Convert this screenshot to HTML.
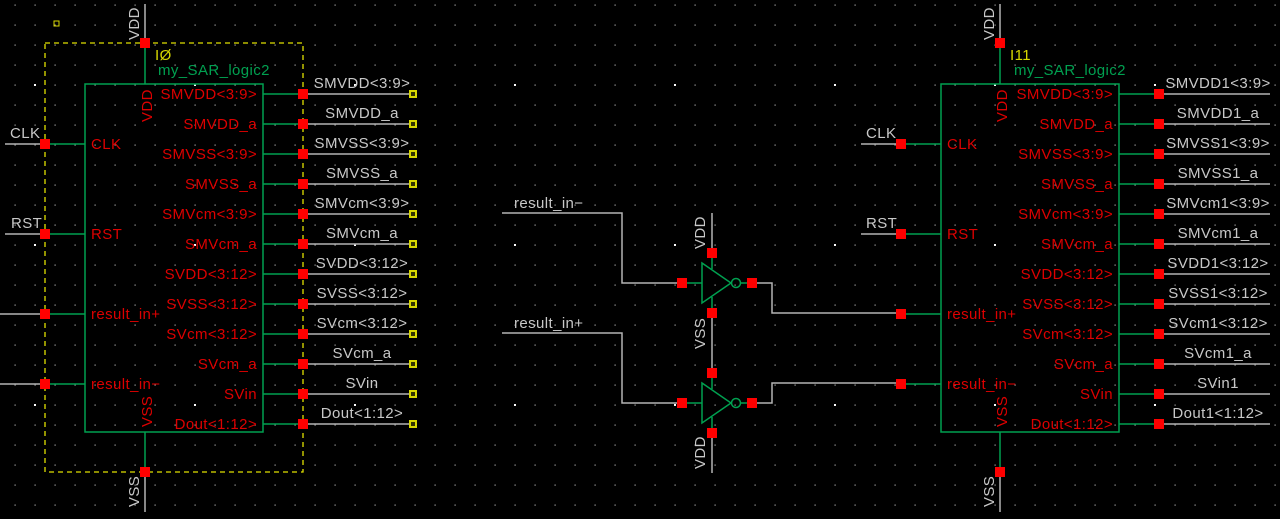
<!DOCTYPE html>
<html><head><meta charset="utf-8"><style>
html,body{margin:0;padding:0;background:#000;}
svg{display:block;}
text{font-family:"Liberation Sans",sans-serif;font-size:15px;letter-spacing:0.4px;}
.r{fill:#dd0000;}
.g{fill:#c8c8c8;}
.gr{fill:#00a050;}
.y{fill:#d8d800;}
</style></head><body>
<svg width="1280" height="519" viewBox="0 0 1280 519" xmlns="http://www.w3.org/2000/svg">
<defs>
<pattern id="dots" x="0" y="0" width="20" height="20" patternUnits="userSpaceOnUse">
<rect x="14.5" y="4.5" width="1.2" height="1.2" fill="#a8a8a8"/>
</pattern>
<pattern id="big" x="0" y="0" width="160" height="160" patternUnits="userSpaceOnUse">
<rect x="34" y="84" width="2" height="2" fill="#ffffff"/>
</pattern>
<g id="term"><rect x="-4" y="-4" width="8" height="8" fill="#d8d800"/><rect x="-2" y="-2" width="4" height="4" fill="#333300"/></g>
</defs>
<rect width="1280" height="519" fill="#000"/>
<rect width="1280" height="519" fill="url(#dots)"/>
<rect width="1280" height="519" fill="url(#big)"/>

<!-- ========== LEFT SYMBOL ========== -->
<rect x="45" y="43" width="258" height="429" fill="none" stroke="#e0e000" stroke-width="1.3" stroke-dasharray="5,4"/>
<rect x="54" y="21" width="5" height="5" fill="none" stroke="#d8d800"/>
<g stroke="#b4b4b4" stroke-width="1.5" fill="none">
<line x1="145" y1="4" x2="145" y2="43"/>
<line x1="145" y1="472" x2="145" y2="512"/>
<line x1="5" y1="144" x2="45" y2="144"/>
<line x1="5" y1="234" x2="45" y2="234"/>
<line x1="0" y1="314" x2="45" y2="314"/>
<line x1="0" y1="384" x2="45" y2="384"/>
<path d="M303 94H412M303 124H412M303 154H412M303 184H412M303 214H412M303 244H412M303 274H412M303 304H412M303 334H412M303 364H412M303 394H412M303 424H412"/>
</g>
<g stroke="#00a050" stroke-width="1.5" fill="none">
<rect x="85" y="84" width="178" height="348"/>
<line x1="145" y1="43" x2="145" y2="84"/>
<line x1="145" y1="432" x2="145" y2="472"/>
<path d="M45 144H85M45 234H85M45 314H85M45 384H85"/>
<path d="M263 94H303M263 124H303M263 154H303M263 184H303M263 214H303M263 244H303M263 274H303M263 304H303M263 334H303M263 364H303M263 394H303M263 424H303"/>
</g>
<g fill="#ff0000">
<rect x="140" y="38" width="10" height="10"/><rect x="140" y="467" width="10" height="10"/>
<rect x="40" y="139" width="10" height="10"/><rect x="40" y="229" width="10" height="10"/>
<rect x="40" y="309" width="10" height="10"/><rect x="40" y="379" width="10" height="10"/>
<rect x="298" y="89" width="10" height="10"/><rect x="298" y="119" width="10" height="10"/>
<rect x="298" y="149" width="10" height="10"/><rect x="298" y="179" width="10" height="10"/>
<rect x="298" y="209" width="10" height="10"/><rect x="298" y="239" width="10" height="10"/>
<rect x="298" y="269" width="10" height="10"/><rect x="298" y="299" width="10" height="10"/>
<rect x="298" y="329" width="10" height="10"/><rect x="298" y="359" width="10" height="10"/>
<rect x="298" y="389" width="10" height="10"/><rect x="298" y="419" width="10" height="10"/>
</g>
<use href="#term" x="413" y="94"/><use href="#term" x="413" y="124"/><use href="#term" x="413" y="154"/>
<use href="#term" x="413" y="184"/><use href="#term" x="413" y="214"/><use href="#term" x="413" y="244"/>
<use href="#term" x="413" y="274"/><use href="#term" x="413" y="304"/><use href="#term" x="413" y="334"/>
<use href="#term" x="413" y="364"/><use href="#term" x="413" y="394"/><use href="#term" x="413" y="424"/>
<text class="g" transform="translate(139,40) rotate(-90)">VDD</text>
<text class="g" transform="translate(139,507) rotate(-90)">VSS</text>
<text class="y" x="155" y="60">IØ</text>
<text class="gr" x="158" y="75">my_SAR_logic2</text>
<text class="r" transform="translate(152,122) rotate(-90)">VDD</text>
<text class="r" transform="translate(152,427) rotate(-90)">VSS</text>
<text class="g" x="10" y="138">CLK</text>
<text class="g" x="11" y="228">RST</text>
<g class="r">
<text x="91" y="149">CLK</text>
<text x="91" y="239">RST</text>
<text x="91" y="319">result_in+</text>
<text x="91" y="389">result_in−</text>
</g>
<g class="r" text-anchor="end">
<text x="257" y="99">SMVDD&lt;3:9&gt;</text>
<text x="257" y="129">SMVDD_a</text>
<text x="257" y="159">SMVSS&lt;3:9&gt;</text>
<text x="257" y="189">SMVSS_a</text>
<text x="257" y="219">SMVcm&lt;3:9&gt;</text>
<text x="257" y="249">SMVcm_a</text>
<text x="257" y="279">SVDD&lt;3:12&gt;</text>
<text x="257" y="309">SVSS&lt;3:12&gt;</text>
<text x="257" y="339">SVcm&lt;3:12&gt;</text>
<text x="257" y="369">SVcm_a</text>
<text x="257" y="399">SVin</text>
<text x="257" y="429">Dout&lt;1:12&gt;</text>
</g>
<g class="g" text-anchor="middle">
<text x="362" y="88">SMVDD&lt;3:9&gt;</text>
<text x="362" y="118">SMVDD_a</text>
<text x="362" y="148">SMVSS&lt;3:9&gt;</text>
<text x="362" y="178">SMVSS_a</text>
<text x="362" y="208">SMVcm&lt;3:9&gt;</text>
<text x="362" y="238">SMVcm_a</text>
<text x="362" y="268">SVDD&lt;3:12&gt;</text>
<text x="362" y="298">SVSS&lt;3:12&gt;</text>
<text x="362" y="328">SVcm&lt;3:12&gt;</text>
<text x="362" y="358">SVcm_a</text>
<text x="362" y="388">SVin</text>
<text x="362" y="418">Dout&lt;1:12&gt;</text>
</g>

<!-- ========== INVERTERS ========== -->
<g stroke="#b4b4b4" stroke-width="1.5" fill="none">
<path d="M502 213H622V283H682"/>
<path d="M502 333H622V403H682"/>
<path d="M752 283H772V313H901"/>
<path d="M752 403H772V383H901"/>
<line x1="712" y1="213" x2="712" y2="253"/>
<line x1="712" y1="313" x2="712" y2="373"/>
<line x1="712" y1="433" x2="712" y2="473"/>
</g>
<g stroke="#00a050" stroke-width="1.5" fill="none">
<path d="M682 283H702M702 263L731 283L702 303Z"/>
<circle cx="736" cy="283" r="4.5"/>
<line x1="741" y1="283" x2="752" y2="283"/>
<line x1="712" y1="253" x2="712" y2="269"/><line x1="712" y1="297" x2="712" y2="313"/>
<path d="M682 403H702M702 383L731 403L702 423Z"/>
<circle cx="736" cy="403" r="4.5"/>
<line x1="741" y1="403" x2="752" y2="403"/>
<line x1="712" y1="373" x2="712" y2="389"/><line x1="712" y1="417" x2="712" y2="433"/>
</g>
<g fill="#ff0000">
<rect x="677" y="278" width="10" height="10"/><rect x="747" y="278" width="10" height="10"/>
<rect x="707" y="248" width="10" height="10"/><rect x="707" y="308" width="10" height="10"/>
<rect x="677" y="398" width="10" height="10"/><rect x="747" y="398" width="10" height="10"/>
<rect x="707" y="368" width="10" height="10"/><rect x="707" y="428" width="10" height="10"/>
</g>
<text class="g" x="514" y="208">result_in−</text>
<text class="g" x="514" y="328">result_in+</text>
<text class="g" transform="translate(705,249) rotate(-90)">VDD</text>
<text class="g" transform="translate(705,349) rotate(-90)">VSS</text>
<text class="g" transform="translate(705,469) rotate(-90)">VDD</text>

<!-- ========== RIGHT SYMBOL ========== -->
<g stroke="#b4b4b4" stroke-width="1.5" fill="none">
<line x1="1000" y1="4" x2="1000" y2="43"/>
<line x1="1000" y1="472" x2="1000" y2="512"/>
<line x1="861" y1="144" x2="901" y2="144"/>
<line x1="861" y1="234" x2="901" y2="234"/>
<path d="M1159 94H1270M1159 124H1270M1159 154H1270M1159 184H1270M1159 214H1270M1159 244H1270M1159 274H1270M1159 304H1270M1159 334H1270M1159 364H1270M1159 394H1270M1159 424H1270"/>
</g>
<g stroke="#00a050" stroke-width="1.5" fill="none">
<rect x="941" y="84" width="178" height="348"/>
<line x1="1000" y1="43" x2="1000" y2="84"/>
<line x1="1000" y1="432" x2="1000" y2="472"/>
<path d="M901 144H941M901 234H941M901 314H941M901 384H941"/>
<path d="M1119 94H1159M1119 124H1159M1119 154H1159M1119 184H1159M1119 214H1159M1119 244H1159M1119 274H1159M1119 304H1159M1119 334H1159M1119 364H1159M1119 394H1159M1119 424H1159"/>
</g>
<g fill="#ff0000">
<rect x="995" y="38" width="10" height="10"/><rect x="995" y="467" width="10" height="10"/>
<rect x="896" y="139" width="10" height="10"/><rect x="896" y="229" width="10" height="10"/>
<rect x="896" y="309" width="10" height="10"/><rect x="896" y="379" width="10" height="10"/>
<rect x="1154" y="89" width="10" height="10"/><rect x="1154" y="119" width="10" height="10"/>
<rect x="1154" y="149" width="10" height="10"/><rect x="1154" y="179" width="10" height="10"/>
<rect x="1154" y="209" width="10" height="10"/><rect x="1154" y="239" width="10" height="10"/>
<rect x="1154" y="269" width="10" height="10"/><rect x="1154" y="299" width="10" height="10"/>
<rect x="1154" y="329" width="10" height="10"/><rect x="1154" y="359" width="10" height="10"/>
<rect x="1154" y="389" width="10" height="10"/><rect x="1154" y="419" width="10" height="10"/>
</g>
<text class="g" transform="translate(994,40) rotate(-90)">VDD</text>
<text class="g" transform="translate(994,507) rotate(-90)">VSS</text>
<text class="y" x="1010" y="60">I11</text>
<text class="gr" x="1014" y="75">my_SAR_logic2</text>
<text class="r" transform="translate(1007,122) rotate(-90)">VDD</text>
<text class="r" transform="translate(1007,427) rotate(-90)">VSS</text>
<text class="g" x="866" y="138">CLK</text>
<text class="g" x="866" y="228">RST</text>
<g class="r">
<text x="947" y="149">CLK</text>
<text x="947" y="239">RST</text>
<text x="947" y="319">result_in+</text>
<text x="947" y="389">result_in−</text>
</g>
<g class="r" text-anchor="end">
<text x="1113" y="99">SMVDD&lt;3:9&gt;</text>
<text x="1113" y="129">SMVDD_a</text>
<text x="1113" y="159">SMVSS&lt;3:9&gt;</text>
<text x="1113" y="189">SMVSS_a</text>
<text x="1113" y="219">SMVcm&lt;3:9&gt;</text>
<text x="1113" y="249">SMVcm_a</text>
<text x="1113" y="279">SVDD&lt;3:12&gt;</text>
<text x="1113" y="309">SVSS&lt;3:12&gt;</text>
<text x="1113" y="339">SVcm&lt;3:12&gt;</text>
<text x="1113" y="369">SVcm_a</text>
<text x="1113" y="399">SVin</text>
<text x="1113" y="429">Dout&lt;1:12&gt;</text>
</g>
<g class="g" text-anchor="middle">
<text x="1218" y="88">SMVDD1&lt;3:9&gt;</text>
<text x="1218" y="118">SMVDD1_a</text>
<text x="1218" y="148">SMVSS1&lt;3:9&gt;</text>
<text x="1218" y="178">SMVSS1_a</text>
<text x="1218" y="208">SMVcm1&lt;3:9&gt;</text>
<text x="1218" y="238">SMVcm1_a</text>
<text x="1218" y="268">SVDD1&lt;3:12&gt;</text>
<text x="1218" y="298">SVSS1&lt;3:12&gt;</text>
<text x="1218" y="328">SVcm1&lt;3:12&gt;</text>
<text x="1218" y="358">SVcm1_a</text>
<text x="1218" y="388">SVin1</text>
<text x="1218" y="418">Dout1&lt;1:12&gt;</text>
</g>
</svg>
</body></html>
